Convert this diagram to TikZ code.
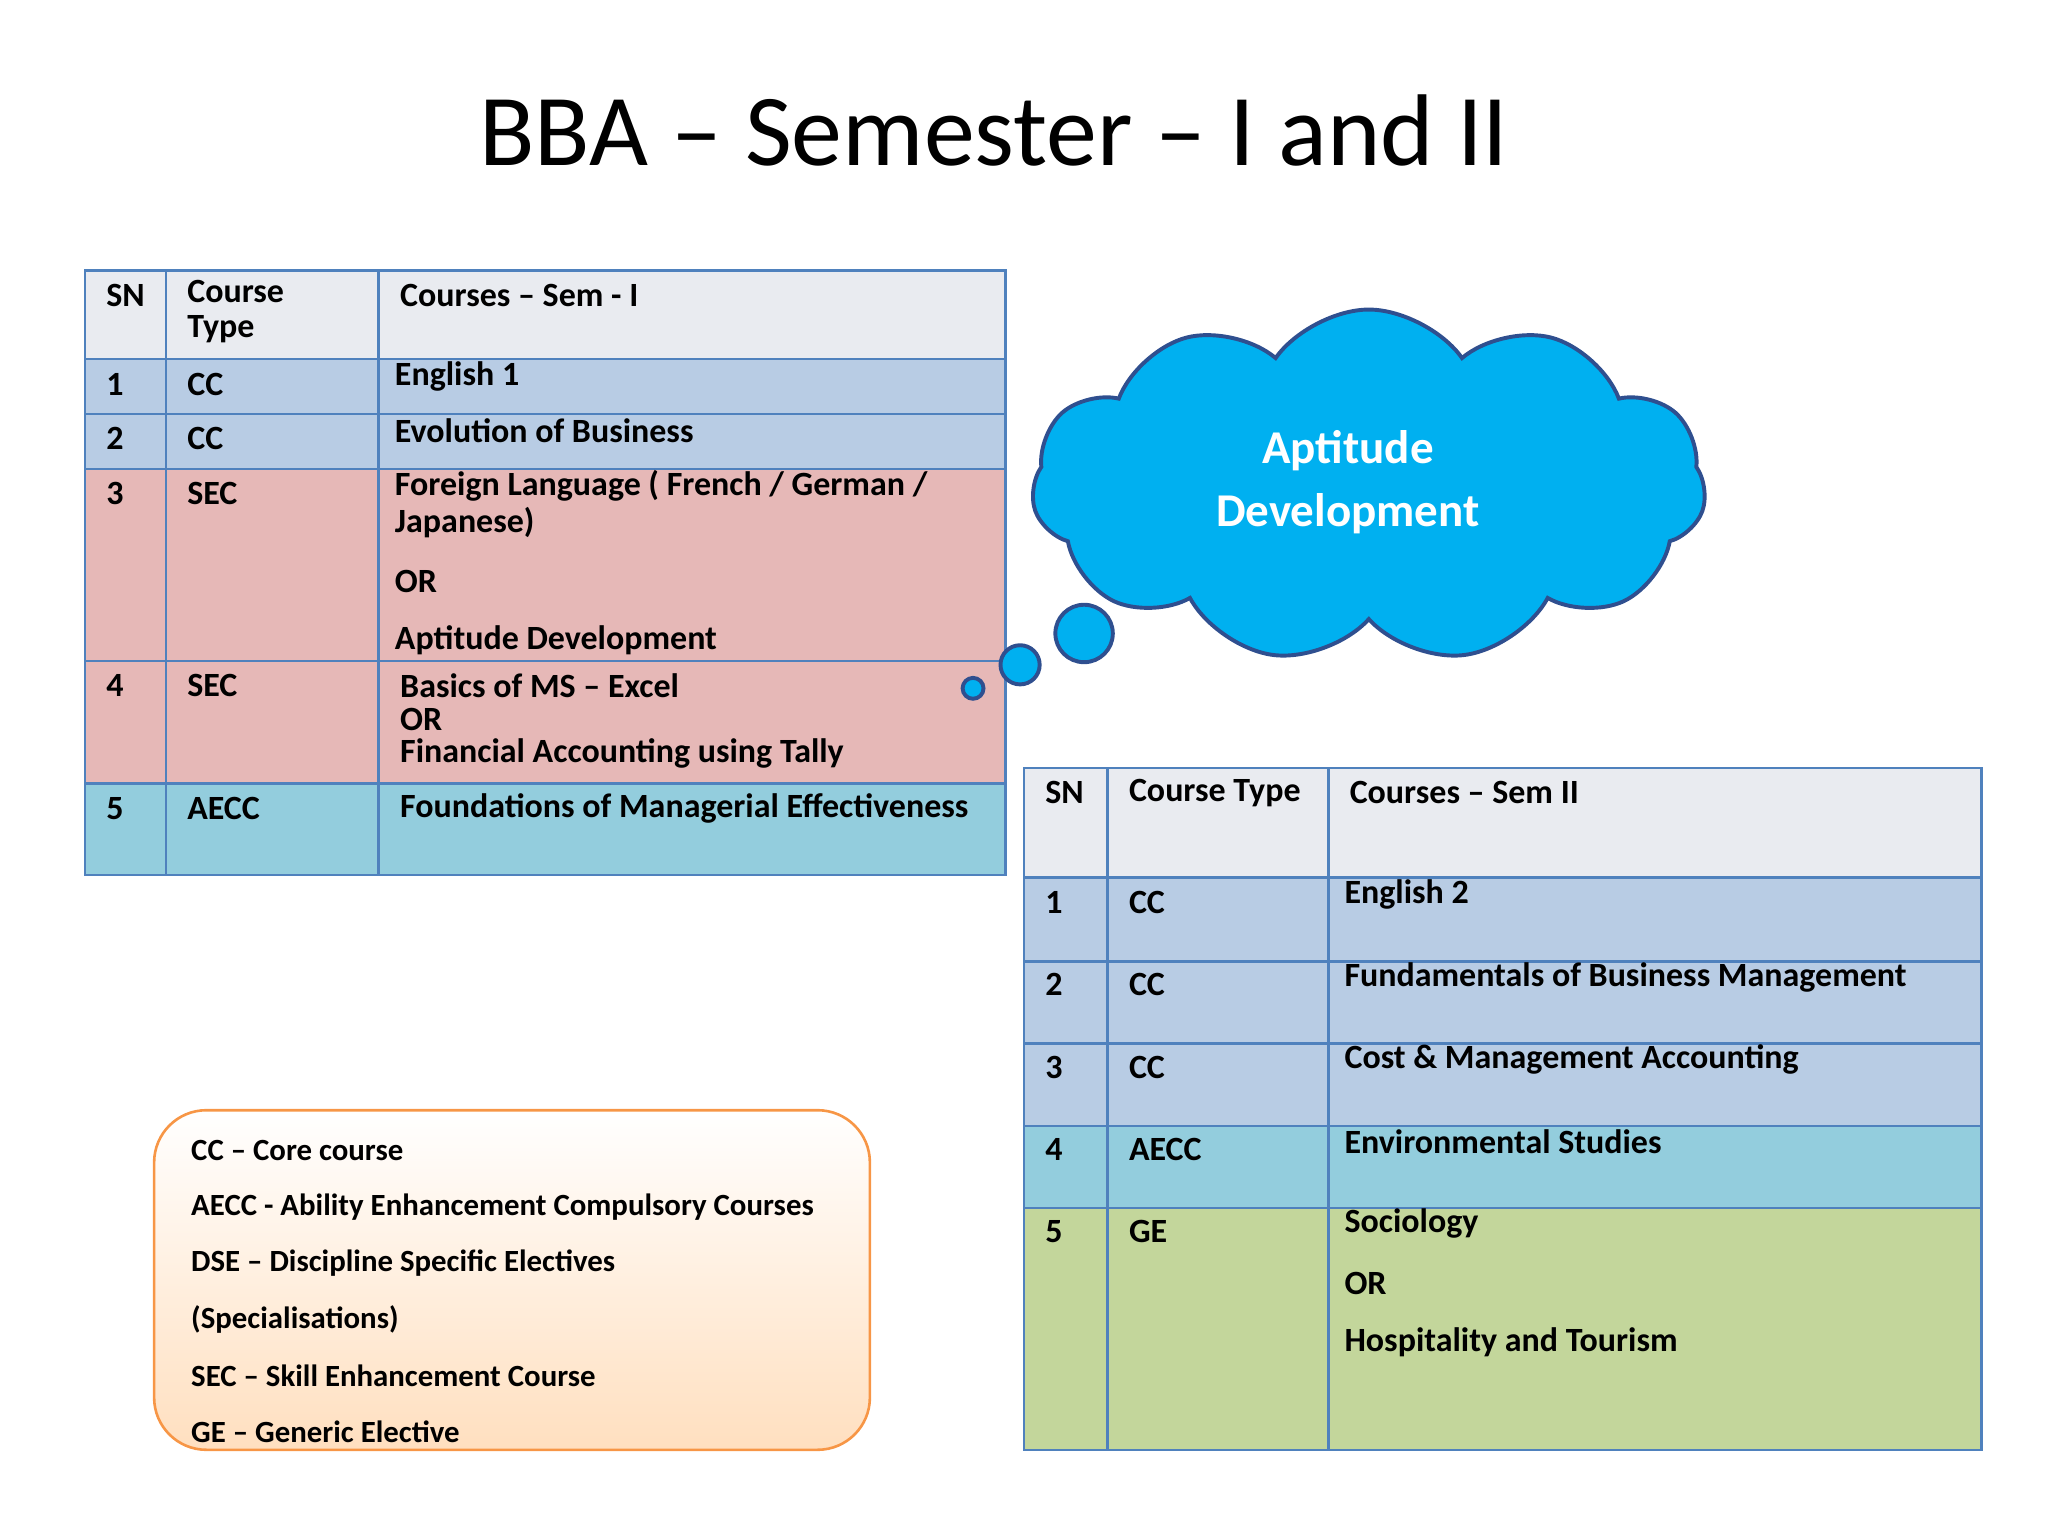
\documentclass[tikz,border=0pt]{standalone}
\usepackage{fontspec}
\setmainfont{Carlito}
\usetikzlibrary{shapes.symbols}
\definecolor{hdr}{HTML}{E9EBF0}
\definecolor{blu}{HTML}{B8CCE4}
\definecolor{pnk}{HTML}{E6B8B7}
\definecolor{aq}{HTML}{93CDDD}
\definecolor{grn}{HTML}{C3D69B}
\definecolor{bd}{HTML}{4F81BD}
\definecolor{sky}{HTML}{00B0F0}
\definecolor{cbd}{HTML}{2F4F8F}
\definecolor{org}{HTML}{F79646}
\tikzset{cell/.style={draw=bd,line width=1pt},
 ct/.style={anchor=west,inner sep=0pt,font=\fontsize{13}{13.5}\selectfont\bfseries,align=left},
 lg/.style={anchor=west,inner sep=0pt,font=\fontsize{11.8}{13}\selectfont\bfseries}}
\begin{document}
\begin{tikzpicture}[x=0.5pt,y=-0.5pt]
\useasboundingbox (0,0) rectangle (1568,1176);
\node[font=\fontsize{39}{44}\selectfont] (title) at (761,100) {BBA – Semester – I and II};
% table 1
\foreach \ya/\yb/\c in {207/275/hdr,275/317/blu,317/359/blu,359/506/pnk,506/600/pnk,600/670/aq}{
 \foreach \xa/\xb in {65/127,127/290,290/770}{
  \fill[\c] (\xa,\ya) rectangle (\xb,\yb);}}
\foreach \ya/\yb in {207/275,275/317,317/359,359/506,506/600,600/670}{
 \foreach \xa/\xb in {65/127,127/290,290/770}{
  \draw[cell] (\xa,\ya) rectangle (\xb,\yb);}}
\node[ct] (a0) at (81,226) {SN};
\node[ct,anchor=north west] (a1) at (143,214) {Course\\Type};
\node[ct] (a2) at (306,226) {Courses – Sem - I};
\node[ct] (r1a) at (81,294) {1}; \node[ct] (r1b) at (143,294) {CC}; \node[ct] (r1c) at (302,288) {English 1};
\node[ct] (r2a) at (81,336) {2}; \node[ct] (r2b) at (143,336) {CC}; \node[ct] (r2c) at (302,330) {Evolution of Business};
\node[ct] (r3a) at (81,378) {3}; \node[ct] (r3b) at (143,378) {SEC};
\node[ct] (r3c) at (302,372) {Foreign Language ( French / German /};
\node[ct] (r3d) at (302,400) {Japanese)};
\node[ct] (r3e) at (302,445) {OR};
\node[ct] (r3f) at (302,490) {Aptitude Development};
\node[ct] (r4a) at (81,525) {4}; \node[ct] (r4b) at (143,525) {SEC};
\node[ct] (r4c) at (306,525) {Basics of MS – Excel};
\node[ct] (r4d) at (306,551) {OR};
\node[ct] (r4e) at (306,577) {Financial Accounting using Tally};
\node[ct] (r5a) at (81,619) {5}; \node[ct] (r5b) at (143,619) {AECC};
\node[ct] (r5c) at (306,619) {Foundations of Managerial Effectiveness};
% cloud
\node[cloud,cloud puffs=11,cloud puff arc=110,aspect=2,fill=sky,draw=cbd,line width=1.5pt,minimum width=258pt,minimum height=135pt,text=white,font=\fontsize{18}{24}\selectfont\bfseries,align=center] (cloud) at (1048,372) {};
\node[text=white,font=\fontsize{18}{24}\selectfont\bfseries,align=center] (ctext) at (1032,369) {Aptitude\\Development};
\node[circle,fill=sky,draw=cbd,line width=1.5pt,minimum size=22pt,inner sep=0pt] (b1) at (830,485) {};
\node[circle,fill=sky,draw=cbd,line width=1.5pt,minimum size=15pt,inner sep=0pt] (b2) at (781,509) {};
\node[circle,fill=sky,draw=cbd,line width=1.5pt,minimum size=8pt,inner sep=0pt] (b3) at (745,527) {};
% table 2
\foreach \ya/\yb/\c in {588/672/hdr,672/736/blu,736/799/blu,799/862/blu,862/925/aq,925/1110/grn}{
 \foreach \xa/\xb in {784/848,848/1017,1017/1517}{
  \fill[\c] (\xa,\ya) rectangle (\xb,\yb);}}
\foreach \ya/\yb in {588/672,672/736,736/799,799/862,862/925,925/1110}{
 \foreach \xa/\xb in {784/848,848/1017,1017/1517}{
  \draw[cell] (\xa,\ya) rectangle (\xb,\yb);}}
\node[ct] (s0) at (800,607) {SN}; \node[ct] (s1) at (864,607) {Course Type}; \node[ct] (s2) at (1033,607) {Courses – Sem II};
\node[ct] (t1a) at (800,691) {1}; \node[ct] (t1b) at (864,691) {CC}; \node[ct] (t1c) at (1029,685) {English 2};
\node[ct] (t2a) at (800,754) {2}; \node[ct] (t2b) at (864,754) {CC}; \node[ct] (t2c) at (1029,748) {Fundamentals of Business Management};
\node[ct] (t3a) at (800,817) {3}; \node[ct] (t3b) at (864,817) {CC}; \node[ct] (t3c) at (1029,811) {Cost \& Management Accounting};
\node[ct] (t4a) at (800,880) {4}; \node[ct] (t4b) at (864,880) {AECC}; \node[ct] (t4c) at (1029,874) {Environmental Studies};
\node[ct] (t5a) at (800,943) {5}; \node[ct] (t5b) at (864,943) {GE}; \node[ct] (t5c) at (1029,937) {Sociology};
\node[ct] (t5d) at (1029,983) {OR};
\node[ct] (t5e) at (1029,1028) {Hospitality and Tourism};
% legend
\shade[top color=white,bottom color=orange!25!white] (118,850) [rounded corners=20pt] rectangle (666,1110);
\draw[org,line width=1pt,rounded corners=20pt] (118,850) rectangle (666,1110);
\node[lg] (l1) at (146,881) {CC – Core course};
\node[lg] (l2) at (146,924) {AECC - Ability Enhancement Compulsory Courses};
\node[lg] (l3) at (146,967) {DSE – Discipline Specific Electives};
\node[lg] (l4) at (146,1010) {(Specialisations)};
\node[lg] (l5) at (146,1053) {SEC – Skill Enhancement Course};
\node[lg] (l6) at (146,1096) {GE – Generic Elective};
\end{tikzpicture}
\end{document}
